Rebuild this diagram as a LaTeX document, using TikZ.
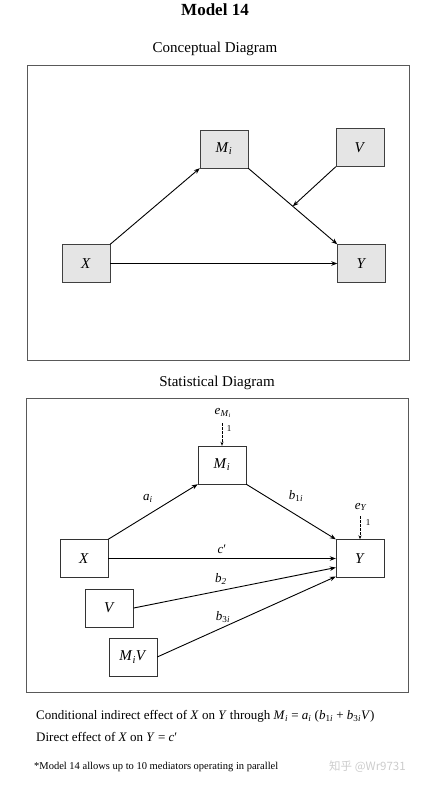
\documentclass[tikz,border=0pt]{standalone}
\usepackage{fontspec}
\setmainfont{Liberation Serif}
\newfontfamily\cjkfont{Noto Sans CJK SC}
\usetikzlibrary{arrows.meta, calc}

\newcommand{\vr}[1]{\textit{#1}}
\newcommand{\vsub}[2]{\textit{#1}\textsubscript{\textit{#2}}}

\begin{document}
\begin{tikzpicture}[
    x=1pt, y=-1pt,
    conbox/.style={rectangle, draw=black!75, fill=gray!20, minimum width=48pt, minimum height=38pt, inner sep=0pt, font=\fontsize{15}{17}\selectfont},
    statbox/.style={rectangle, draw=black!80, fill=white, minimum width=48pt, minimum height=38pt, inner sep=0pt, font=\fontsize{15}{17}\selectfont},
    panel/.style={draw=black!65, line width=0.9pt},
    pathlbl/.style={font=\fontsize{13}{15}\selectfont, inner sep=1pt},
    arrow/.style={-{Stealth[length=6pt, width=4.5pt]}, line width=0.9pt},
    errarrow/.style={-{Stealth[length=4pt, width=3pt]}, line width=0.9pt, dashed, dash pattern=on 2.5pt off 1.5pt}
  ]
    \useasboundingbox (0,0) rectangle (429,788);

    % Headings
    \node[font=\fontsize{17}{19}\selectfont\bfseries] (title) at (215,10) {Model 14};
    \node[font=\fontsize{15}{17}\selectfont] (conhead) at (215,49) {Conceptual Diagram};
    \node[font=\fontsize{15}{17}\selectfont] (stathead) at (217,383) {Statistical Diagram};

    % Panels
    \draw[panel] (27,65) rectangle (409,360);
    \draw[panel] (26,398) rectangle (408,692);

    % Conceptual diagram
    \node[conbox] (Xc) at (86,263.5) {\vr{X}};
    \node[conbox] (Mc) at (224,149) {\vsub{M}{i}};
    \node[conbox] (Vc) at (360,147.5) {\vr{V}};
    \node[conbox] (Yc) at (361.5,263.5) {\vr{Y}};
    \coordinate (modpt) at ($(Mc.south east)!0.5!(Yc.north west)$);

    \draw[arrow] (Xc.north east) -- (Mc.south west);
    \draw[arrow] (Mc.south east) -- (Yc.north west);
    \draw[arrow] (Vc.south west) -- (modpt);
    \draw[arrow] (Xc.east) -- (Yc.west);

    % Statistical diagram
    \node[statbox] (Xs) at (84,558.5) {\vr{X}};
    \node[statbox] (Ms) at (222,465) {\vsub{M}{i}};
    \node[statbox] (Ys) at (360,558.5) {\vr{Y}};
    \node[statbox] (Vs) at (109.5,608) {\vr{V}};
    \node[statbox] (MVs) at (133,657) {\vsub{M}{i}\vr{V}};
    \coordinate (inb2) at ($(Ys.west)!0.47!(Ys.south west)$);
    \coordinate (inb3) at ($(Ys.west)!0.94!(Ys.south west)$);

    \draw[arrow] (Xs.north east) -- (Ms.south west);
    \draw[arrow] (Ms.south east) -- (Ys.north west);
    \draw[arrow] (Xs.east) -- (Ys.west);
    \draw[arrow] (Vs.east) -- (inb2);
    \draw[arrow] (MVs.east) -- (inb3);

    % Path labels
    \node[pathlbl] (la) at (148,498) {\vsub{a}{i}};
    \node[pathlbl] (lb1) at (296,496) {\textit{b}\textsubscript{1\textit{i}}};
    \node[pathlbl] (lc) at (222,549) {\textit{c}′};
    \node[pathlbl] (lb2) at (221,579) {\vsub{b}{2}};
    \node[pathlbl] (lb3) at (223,617) {\textit{b}\textsubscript{3\textit{i}}};

    % Error terms
    \node[pathlbl] (eM) at (223,413) {\textit{e}\textsubscript{\textit{M}\textsubscript{\textit{i}}}};
    \node[pathlbl] (eY) at (361,507) {\vsub{e}{Y}};
    \coordinate (eMend) at (Ms.north |- 0,423);
    \coordinate (eYend) at (Ys.north |- 0,516);
    \draw[errarrow] (eMend) -- (Ms.north);
    \draw[errarrow] (eYend) -- (Ys.north);
    \node[font=\fontsize{9}{10}\selectfont, inner sep=0pt] (oneM) at (229,429) {1};
    \node[font=\fontsize{9}{10}\selectfont, inner sep=0pt] (oneY) at (368,523) {1};

    % Notes
    \node[anchor=west, inner sep=0pt, font=\fontsize{13}{15}\selectfont] (note1) at (36,716)
      {Conditional indirect effect of \vr{X} on \vr{Y} through \vsub{M}{i} = \vsub{a}{i} (\textit{b}\textsubscript{1\textit{i}} + \textit{b}\textsubscript{3\textit{i}}\vr{V})};
    \node[anchor=west, inner sep=0pt, font=\fontsize{13}{15}\selectfont] (note2) at (36,737)
      {Direct effect of \vr{X} on \vr{Y} = \textit{c}′};
    \node[anchor=west, inner sep=0pt, font=\fontsize{10.5}{12}\selectfont] (note3) at (34,767)
      {*Model 14 allows up to 10 mediators operating in parallel};
    \node[anchor=west, inner sep=0pt, text=gray!40, font=\cjkfont\fontsize{11.5}{13}\selectfont] (mark) at (329,767)
      {知乎 @Wr9731};
  \end{tikzpicture}
\end{document}
